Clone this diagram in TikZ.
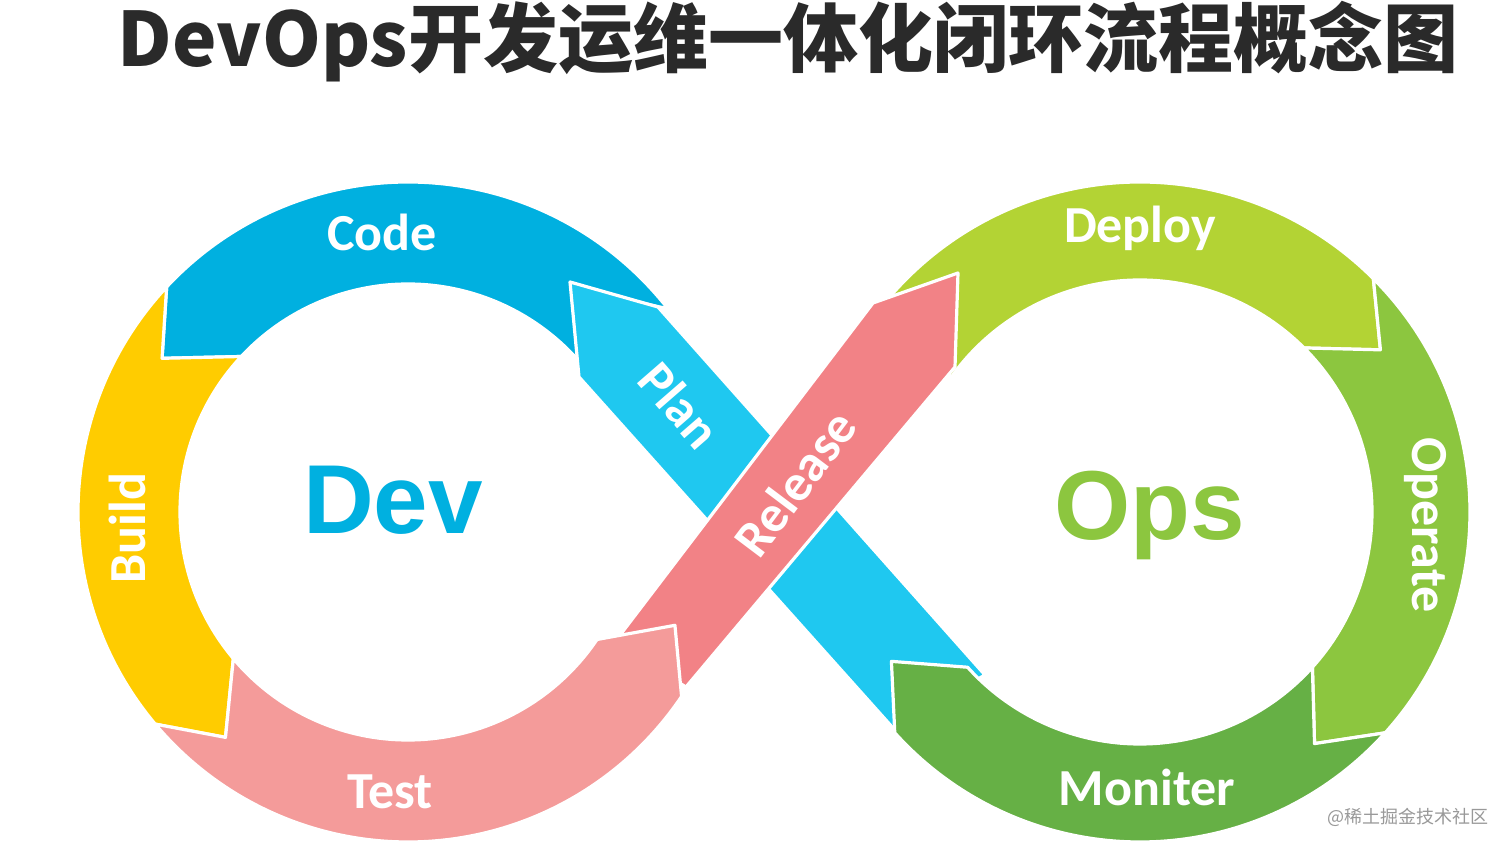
\documentclass[tikz,border=0pt]{standalone}
\usepackage{fontspec}
\setmainfont{Carlito}
\newfontfamily\cjk{Noto Sans CJK SC}
\newfontfamily\arialb{Liberation Sans}
\definecolor{cCode}{HTML}{00B0E0}
\definecolor{cBuild}{HTML}{FFCC00}
\definecolor{cTest}{HTML}{F49B9A}
\definecolor{cRel}{HTML}{F28286}
\definecolor{cPlan}{HTML}{1FC8F0}
\definecolor{cDeploy}{HTML}{B3D334}
\definecolor{cOper}{HTML}{8CC63F}
\definecolor{cMon}{HTML}{66B045}
\definecolor{cTitle}{HTML}{2A2A2A}
\tikzset{
  seg/.style={draw=white,line width=1.6pt,line join=round},
  lab/.style={text=white,font=\bfseries\fontsize{26}{28}\selectfont,inner sep=0pt},
  big/.style={font=\arialb\bfseries\fontsize{49}{52}\selectfont,inner sep=0pt}
}
% #1 colour, #2 start angle, #3 end angle, #4 flow sign, #5 inner, #6 outer
\newcommand\myseg[6]{%
  \fill[#1,seg] (#2:#6) -- ({#2+#4*11}:290) -- (#2:#5)
    arc[start angle=#2,end angle=#3,radius=#5]
    -- ({#3+#4*11}:290) -- (#3:#6)
    arc[start angle=#3,end angle=#2,radius=#6] -- cycle;}
\begin{document}
\begin{tikzpicture}[x=0.5pt,y=0.5pt]
\useasboundingbox (0,0) rectangle (1512,851);
\fill[white] (0,0) rectangle (1512,851);
\node[font=\cjk\bfseries\fontsize{37.5}{40}\selectfont,text=cTitle,inner sep=0pt] (title) at (788,809) {DevOps开发运维一体化闭环流程概念图};
% left ring
\begin{scope}[shift={(408,339)}]
  \myseg{cCode}{38}{137}{1}{228}{330}
  \myseg{cBuild}{137}{220}{1}{228}{330}
\end{scope}
% right ring
\begin{scope}[shift={(1140,339)}]
  \myseg{cDeploy}{145}{45}{-1}{232}{330}
  \myseg{cOper}{45}{-42}{-1}{232}{330}
\end{scope}
% Plan band
\fill[cPlan,seg] (570,569) -- (658,544) -- (985,176) -- (893,123) -- (579,474) -- cycle;
\begin{scope}[shift={(1140,339)}]
  \myseg{cMon}{-42}{-138}{-1}{232}{330}
\end{scope}
% Release band
\fill[cRel,seg] (614,208) -- (873,548) -- (958,578) -- (955,484) -- (686,164) -- cycle;
\begin{scope}[shift={(408,339)}]
  \myseg{cTest}{220}{326}{1}{228}{330}
\end{scope}
% labels
\node[lab] (code) at (382,619) {Code};
\node[lab,rotate=90] (build) at (127,323) {Build};
\node[lab] (test) at (390,59) {Test};
\node[lab,rotate=-49] (plan) at (680,446) {Plan};
\node[lab,rotate=53] (release) at (795,368) {Release};
\node[lab] (deploy) at (1140,623) {Deploy};
\node[lab,rotate=-90] (operate) at (1425,326) {Operate};
\node[lab] (moniter) at (1147,64) {Moniter};
\node[big,text=cCode] (dev) at (393,351) {Dev};
\node[big,text=cOper] (ops) at (1150,336) {Ops};
\node[font=\cjk\fontsize{9}{10}\selectfont,text=gray!80,inner sep=0pt] (wm) at (1408,34) {@稀土掘金技术社区};
\end{tikzpicture}
\end{document}
